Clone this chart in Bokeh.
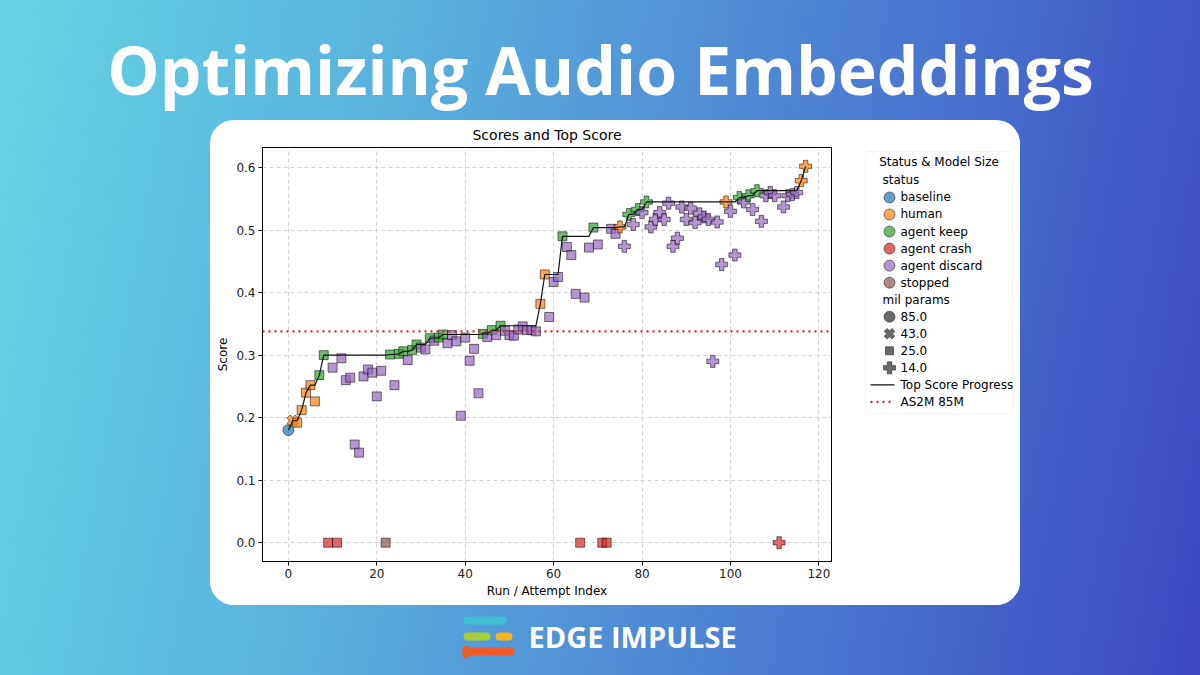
import math
import numpy as np
from bokeh.plotting import figure
from bokeh.models import (ColumnDataSource, Range1d, Span, Label, FixedTicker,
                          PrintfTickFormatter, BoxAnnotation, Spacer, Row, Column)
from bokeh.embed import file_html
from bokeh.resources import INLINE

# ---------------------------------------------------------------- data
scores = [
    0.180, 0.195, 0.192, 0.212, 0.240, 0.252, 0.226, 0.268, 0.300, 0.000,
    0.280, 0.000, 0.295, 0.260, 0.264, 0.157, 0.144, 0.266, 0.277, 0.272,
    0.234, 0.275, 0.000, 0.301, 0.252, 0.302, 0.306, 0.292, 0.308, 0.317,
    0.312, 0.309, 0.327, 0.323, 0.328, 0.333, 0.319, 0.332, 0.322, 0.203,
    0.328, 0.291, 0.310, 0.239, 0.334, 0.329, 0.340, 0.332, 0.347, 0.339,
    0.332, 0.331, 0.341, 0.346, 0.340, 0.340, 0.338, 0.382, 0.429, 0.361,
    0.417, 0.425, 0.490, 0.473, 0.460, 0.398, 0.000, 0.392, 0.472, 0.504,
    0.477, 0.000, 0.000, 0.502, 0.494, 0.505, 0.474, 0.525, 0.509, 0.533,
    0.528, 0.545, 0.505, 0.517, 0.528, 0.517, 0.543, 0.474, 0.487, 0.537,
    0.517, 0.535, 0.512, 0.526, 0.521, 0.517, 0.290, 0.513, 0.445, 0.545,
    0.530, 0.460, 0.552, 0.545, 0.555, 0.533, 0.563, 0.514, 0.555, 0.560,
    0.555, 0.000, 0.537, 0.555, 0.557, 0.560, 0.579, 0.602,
]

statuses = [
    "baseline", "human", "human", "human", "human", "human", "human", "agent keep", "agent keep", "agent crash",
    "agent discard", "agent crash", "agent discard", "agent discard", "agent discard", "agent discard", "agent discard", "agent discard", "agent discard", "agent discard",
    "agent discard", "agent discard", "stopped", "agent keep", "agent discard", "agent keep", "agent keep", "agent discard", "agent keep", "agent keep",
    "agent discard", "agent discard", "agent keep", "agent discard", "agent keep", "agent keep", "agent discard", "agent discard", "agent discard", "agent discard",
    "agent discard", "agent discard", "agent discard", "agent discard", "agent keep", "agent discard", "agent keep", "agent discard", "agent keep", "agent discard",
    "agent discard", "agent discard", "agent discard", "agent discard", "agent discard", "agent discard", "agent discard", "human", "human", "agent discard",
    "agent discard", "agent discard", "agent keep", "agent discard", "agent discard", "agent discard", "agent crash", "agent discard", "agent discard", "agent keep",
    "agent discard", "agent crash", "agent crash", "agent discard", "agent discard", "human", "agent discard", "agent keep", "agent discard", "agent keep",
    "agent discard", "agent keep", "agent discard", "agent discard", "agent discard", "agent discard", "agent discard", "agent discard", "agent discard", "agent discard",
    "agent discard", "agent discard", "agent discard", "agent discard", "agent discard", "agent discard", "agent discard", "agent discard", "agent discard", "human",
    "agent discard", "agent discard", "agent keep", "agent discard", "agent keep", "agent discard", "agent keep", "agent discard", "agent discard", "agent discard",
    "agent discard", "agent crash", "agent discard", "agent discard", "agent discard", "agent discard", "human", "human",
]

mil_params = [
    85.0, 43.0, 25.0, 25.0, 25.0, 25.0, 25.0, 25.0, 25.0, 25.0,
    25.0, 25.0, 25.0, 25.0, 25.0, 25.0, 25.0, 25.0, 25.0, 25.0,
    25.0, 25.0, 25.0, 25.0, 25.0, 25.0, 25.0, 25.0, 25.0, 25.0,
    25.0, 25.0, 25.0, 25.0, 25.0, 25.0, 25.0, 25.0, 25.0, 25.0,
    25.0, 25.0, 25.0, 25.0, 25.0, 25.0, 25.0, 25.0, 25.0, 25.0,
    25.0, 25.0, 25.0, 25.0, 25.0, 25.0, 25.0, 25.0, 25.0, 25.0,
    25.0, 25.0, 25.0, 25.0, 25.0, 25.0, 25.0, 25.0, 25.0, 25.0,
    25.0, 25.0, 25.0, 25.0, 25.0, 14.0, 14.0, 14.0, 14.0, 14.0,
    14.0, 14.0, 14.0, 14.0, 14.0, 14.0, 14.0, 14.0, 14.0, 14.0,
    14.0, 14.0, 14.0, 14.0, 14.0, 14.0, 14.0, 14.0, 14.0, 14.0,
    14.0, 14.0, 14.0, 14.0, 14.0, 14.0, 14.0, 14.0, 14.0, 14.0,
    14.0, 14.0, 14.0, 14.0, 14.0, 14.0, 14.0, 14.0,
]

status_order = ["baseline", "human", "agent keep", "agent crash", "agent discard", "stopped"]
param_order = [85.0, 43.0, 25.0, 14.0]
as2m_score = 0.338
as2m_label = "AS2M 85M"

# ---------------------------------------------------------------- styles
STATUS_COLORS = {
    "baseline": "#1f77b4", "human": "#ff7f0e", "agent keep": "#2ca02c",
    "agent crash": "#d62728", "agent discard": "#9467bd", "stopped": "#8c564b",
}
# marker shape, rotation, size for each model size
PARAM_MARKERS = {
    85.0: ("circle", 0.0, 11),
    43.0: ("plus", math.pi / 4, 12),
    25.0: ("square", 0.0, 9),
    14.0: ("plus", 0.0, 12),
}
FONT = "DejaVu Sans"
TOP_LINE = dict(line_color="#111111", line_width=1.2)
REF_LINE = dict(line_color="#d62728", line_width=2.2, line_dash="2 4")

# chart frame borders inside the 640 x 485 white card part
BORDER_TOP, BORDER_BOTTOM = 26, 44
FRAME_H = 485 - BORDER_TOP - BORDER_BOTTOM

run_index = list(range(len(scores)))
top_score = np.maximum.accumulate(np.array(scores))

src = ColumnDataSource(dict(
    x=run_index,
    y=scores,
    color=[STATUS_COLORS[s] for s in statuses],
    marker=[PARAM_MARKERS[m][0] for m in mil_params],
    angle=[PARAM_MARKERS[m][1] for m in mil_params],
    size=[PARAM_MARKERS[m][2] for m in mil_params],
))


def blank_figure(w, h, fill=None, top=0, bottom=0):
    """A figure drawn in pixel units (y downwards) inside its frame."""
    f = figure(width=w, height=h, x_range=Range1d(0, w), y_range=Range1d(h - top - bottom, 0),
               output_backend="svg", toolbar_location=None, min_border=0,
               min_border_top=top, min_border_bottom=bottom,
               x_axis_type=None, y_axis_type=None,
               background_fill_color=fill, border_fill_color=fill, outline_line_color=None)
    f.xgrid.visible = False
    f.ygrid.visible = False
    return f


def text(fig, x, y, s, size="12px", font=FONT, style="normal", color="black", align="left"):
    fig.add_layout(Label(x=x, y=y, text=s, text_align=align, text_baseline="middle",
                         text_font=font, text_font_size=size, text_font_style=style,
                         text_color=color))


# ---------------------------------------------------------------- heading
head = blank_figure(1200, 120)
text(head, 600, 68, "Optimizing Audio Embeddings", size="66px", font="Open Sans",
     style="bold", color="white", align="center")

# ---------------------------------------------------------------- main chart
p = figure(width=640, height=485, title="Scores and Top Score",
           x_range=Range1d(-5.85, 122.85), y_range=Range1d(-0.0301, 0.6321),
           output_backend="svg", toolbar_location=None,
           min_border_left=52, min_border_right=19,
           min_border_top=BORDER_TOP, min_border_bottom=BORDER_BOTTOM,
           background_fill_color="white", border_fill_color="white",
           outline_line_color="black", outline_line_width=1)

p.title.align = "center"
p.title.text_font = FONT
p.title.text_font_size = "14px"
p.title.text_font_style = "normal"
p.title.text_color = "black"
p.title.standoff = 9

p.xaxis.ticker = FixedTicker(ticks=[0, 20, 40, 60, 80, 100, 120])
p.yaxis.ticker = FixedTicker(ticks=[0.0, 0.1, 0.2, 0.3, 0.4, 0.5, 0.6])
p.yaxis.formatter = PrintfTickFormatter(format="%.1f")
p.xaxis.axis_label = "Run / Attempt Index"
p.yaxis.axis_label = "Score"
for ax in (p.xaxis, p.yaxis):
    ax.axis_label_text_font = FONT
    ax.axis_label_text_font_size = "12px"
    ax.axis_label_text_font_style = "normal"
    ax.axis_label_text_color = "black"
    ax.axis_label_standoff = 3
    ax.major_label_text_font = FONT
    ax.major_label_text_font_size = "12px"
    ax.major_label_text_color = "#222222"
    ax.major_label_standoff = 3
    ax.major_tick_out = 4
    ax.major_tick_in = 0
    ax.minor_tick_out = 0
    ax.minor_tick_in = 0
    ax.axis_line_color = "black"
    ax.major_tick_line_color = "black"

p.grid.grid_line_color = "#c8c8c8"
p.grid.grid_line_dash = "4 3"
p.grid.grid_line_width = 0.8

p.add_layout(Span(location=as2m_score, dimension="width", **REF_LINE))

p.scatter(x="x", y="y", source=src, marker="marker", angle="angle", size="size",
          fill_color="color", fill_alpha=0.7, line_color="black", line_alpha=0.65,
          line_width=0.8)

p.line(run_index, top_score, **TOP_LINE)

# ---------------------------------------------------------------- legend panel
# same top/bottom borders as the chart, so y = 0 is the top of the chart frame
lg = blank_figure(170, 485, fill="white", top=BORDER_TOP, bottom=BORDER_BOTTOM)
lg.add_layout(BoxAnnotation(left=15, right=162, top=4, bottom=267, fill_color="white",
                            fill_alpha=1, line_color="#d5d5d5", line_width=1,
                            border_radius=3, level="underlay"))
text(lg, 88.5, 15, "Status & Model Size", align="center")

ROW0, ROW_STEP = 33, 17.08
GLYPH_X, LABEL_X, HEADER_X = 39, 50, 32
rows = (
    [("header", "status")]
    + [("status", s) for s in status_order]
    + [("header", "mil params")]
    + [("param", m) for m in param_order]
    + [("line", "Top Score Progress"), ("ref", as2m_label)]
)
for i, (kind, key) in enumerate(rows):
    y = ROW0 + ROW_STEP * i
    if kind == "header":
        text(lg, HEADER_X, y, key)
        continue
    if kind == "status":
        lg.scatter([GLYPH_X], [y], marker="circle", size=11, fill_color=STATUS_COLORS[key],
                   fill_alpha=0.7, line_color="black", line_alpha=0.6, line_width=0.8)
        label = key
    elif kind == "param":
        shape, ang, _ = PARAM_MARKERS[key]
        sz = {85.0: 11, 43.0: 11, 25.0: 8, 14.0: 12}[key]
        lg.scatter([GLYPH_X], [y], marker=shape, angle=ang, size=sz, fill_color="#444444",
                   fill_alpha=0.8, line_color="#333333", line_alpha=0.8, line_width=0.8)
        label = f"{key:.1f}"
    elif kind == "line":
        lg.line([20, 44], [y, y], **TOP_LINE)
        label = key
    else:
        lg.line([20, 44], [y, y], **REF_LINE)
        label = key
    text(lg, LABEL_X, y, label)

card = Row(children=[p, lg],
           styles={"background-color": "white", "border-radius": "24px", "overflow": "hidden"})
middle = Row(children=[Spacer(width=210, height=485), card, Spacer(width=180, height=485)])

# ---------------------------------------------------------------- footer logo
foot = blank_figure(1200, 70)
for left, right, top, bottom, color in (
    (463, 506, 11, 19, "#3fc0d0"),
    (463, 490, 27, 35, "#a5cd3a"),
    (495, 512, 27, 35, "#f5b31c"),
    (462, 514, 42, 50, "#f15a2b"),
    (462, 469, 40, 53, "#f15a2b"),
):
    foot.add_layout(BoxAnnotation(left=left, right=right, top=top, bottom=bottom,
                                  fill_color=color, fill_alpha=1, line_color=None,
                                  border_radius=4))
text(foot, 528, 31, "EDGE IMPULSE", size="29px", font="Open Sans", style="bold", color="white")

root = Column(children=[head, middle, foot],
              styles={"background": "linear-gradient(100deg, #64d4e2 0%, #58acdd 35%, #4c7fd1 65%, #3c48c2 100%)",
                      "width": "1200px", "height": "675px"})

with open("out.html", "w") as fh:
    fh.write(file_html(root, INLINE, title="Optimizing Audio Embeddings"))
